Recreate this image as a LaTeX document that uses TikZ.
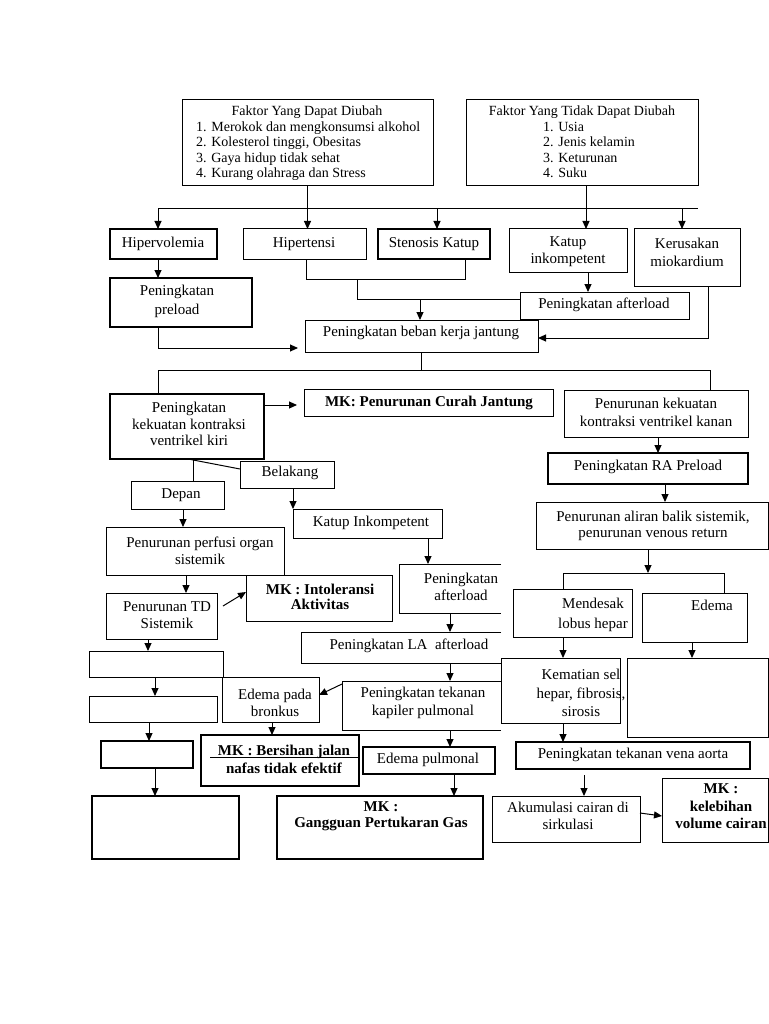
\documentclass[tikz,border=0pt]{standalone}
\usepackage{fontspec}
\setmainfont{Liberation Serif}
\usetikzlibrary{arrows.meta}
\newcommand\fsA{\fontsize{14}{15.5}\selectfont}
\newcommand\fsB{\fontsize{15}{16.5}\selectfont}
\newcommand\mkbox[6][]{\node[box,#1,minimum width={(#4)-(#2)},minimum height={(#5)-(#3)}] (#6) at ({((#2)+(#4))/2},{((#3)+(#5))/2}) {};}
\begin{document}
\begin{tikzpicture}[x=1pt,y=-1pt,
  ln/.style={line width=1pt},
  arr/.style={ln,-{Triangle[length=8pt,width=7pt]}},
  box/.style={draw,line width=1pt,inner sep=0pt,outer sep=0pt},
  thk/.style={line width=1.8pt},
  txa/.style={font=\fsA,inner sep=0pt,align=center},
  txt/.style={font=\fsB,inner sep=0pt,align=center},
  txb/.style={font=\fsB\bfseries,inner sep=0pt,align=center}]
\fill[white] (0,0) rectangle (768,1024);
\useasboundingbox (0,0) rectangle (768,1024);
% ---- top factor boxes
\mkbox{182}{100}{433}{186}{fA}
\mkbox{466}{100}{698}{186}{fB}
\node[txa] (tA0) at (307,112) {Faktor Yang Dapat Diubah};
\node[txa,anchor=west,align=left] (tA1) at (196,151) {1. Merokok dan mengkonsumsi alkohol\\2. Kolesterol tinggi, Obesitas\\3. Gaya hidup tidak sehat\\4. Kurang olahraga dan Stress};
\node[txa] (tB0) at (582,112) {Faktor Yang Tidak Dapat Diubah};
\node[txa,anchor=west,align=left] (tB1) at (543,150) {1. Usia\\2. Jenis kelamin\\3. Keturunan\\4. Suku};
% ---- row 2
\mkbox[thk]{110}{229}{217}{259}{hiperv}
\node[txt] (thv) at (163,244) {Hipervolemia};
\mkbox{243}{229}{366}{259}{hipert}
\node[txt] (tht) at (304,244) {Hipertensi};
\mkbox[thk]{378}{229}{490}{259}{sten}
\node[txt] (tst) at (434,244) {Stenosis Katup};
\mkbox{509}{229}{627}{272}{katup}
\node[txt] (tki) at (568,252) {Katup\\[0.5pt]inkompetent};
\mkbox{634}{229}{740}{286}{kerus}
\node[txt] (tkr) at (687,252) {Kerusakan\\[1.5pt]miokardium};
\mkbox[thk]{110}{278}{252}{327}{preload}
\node[txt] (tpr) at (177,301) {Peningkatan\\[2.5pt]preload};
\mkbox{520}{292}{689}{319}{afterl}
\node[txt] (taf) at (604,305) {Peningkatan afterload};
\mkbox{305}{320}{538}{352}{beban}
\node[txt] (tbb) at (421,333) {Peningkatan beban kerja jantung};
% ---- connectors top
\coordinate (hL) at (158,209);
\coordinate (hR) at (698,209);
\draw[ln] (hL) -- (hR);
\draw[arr] (hL) -- (hL |- hiperv.north);
\draw[arr] (fA.south) -- (fA.south |- hipert.north);
\coordinate (hS) at (437,209);
\draw[arr] (hS) -- (hS |- sten.north);
\coordinate (hB) at (586,209);
\draw[arr] (hB |- fB.south) -- (hB |- katup.north);
\coordinate (hK) at (682,209);
\draw[arr] (hK) -- (hK |- kerus.north);
\draw[arr] (hL |- hiperv.south) -- (hL |- preload.north);
\coordinate (br1) at (306,279);
\coordinate (br2) at (465,279);
\draw[ln] (br1 |- hipert.south) -- (br1) -- (br2) -- (br2 |- sten.south);
\coordinate (bm) at (357,279);
\coordinate (bm2) at (357,299);
\draw[ln] (bm) -- (bm2) -- (bm2 -| afterl.west);
\coordinate (ba) at (420,299);
\draw[arr] (ba) -- (ba |- beban.north);
\coordinate (ka) at (588,272);
\draw[arr] (ka) -- (ka |- afterl.north);
\coordinate (kr) at (708,338);
\draw[arr] (kr |- kerus.south) -- (kr) -- (kr -| beban.east);
\coordinate (pa) at (298,348);
\draw[arr] (hL |- preload.south) |- (pa);
% ---- split below beban
\coordinate (bb) at (421,370);
\coordinate (bl) at (158,370);
\coordinate (brr) at (710,370);
\draw[ln] (bb |- beban.south) -- (bb);
\mkbox[thk]{110}{394}{264}{459}{LV}
\node[txt] (tlv) at (189,424) {Peningkatan\\kekuatan kontraksi\\ventrikel kiri};
\mkbox{304}{389}{553}{416}{mk1}
\node[txb] (tm1) at (429,403) {MK: Penurunan Curah Jantung};
\mkbox{564}{390}{748}{437}{kanan}
\node[txt] (tkn) at (656,412) {Penurunan kekuatan\\[1.5pt]kontraksi ventrikel kanan};
\draw[ln] (bl |- LV.north) -- (bl) -- (brr) -- (brr |- kanan.north);
\coordinate (m1) at (297,405);
\draw[arr] (m1 -| LV.east) -- (m1);
% ---- right column
\mkbox[thk]{548}{453}{748}{484}{ra}
\node[txt] (tra) at (648,467) {Peningkatan RA Preload};
\coordinate (r1) at (658,437);
\draw[arr] (r1) -- (r1 |- ra.north);
\mkbox{536}{502}{768}{549}{aliran}
\node[txt] (tal) at (653,526) {Penurunan aliran balik sistemik,\\penurunan venous return};
\coordinate (r2) at (665,484);
\draw[arr] (r2) -- (r2 |- aliran.north);
\coordinate (r3) at (648,573);
\draw[arr] (r3 |- aliran.south) -- (r3);
\mkbox{513}{589}{632}{637}{mend}
\node[txt] (tmd) at (593,615) {Mendesak\\[3.5pt]lobus hepar};
\mkbox{642}{593}{747}{642}{edema}
\node[txt] (ted) at (712,605) {Edema};
\coordinate (rl) at (563,573);
\coordinate (rr) at (724,573);
\draw[ln] (rl |- mend.north) -- (rl) -- (rr) -- (rr |- edema.north);
\mkbox{501}{658}{620}{723}{kemat}
\node[txt] (tkm) at (581,693) {Kematian sel\\[2pt]hepar, fibrosis,\\[2pt]sirosis};
\mkbox{627}{658}{768}{737}{emptyR}
\draw[arr] (rl |- mend.south) -- (rl |- kemat.north);
\coordinate (r4) at (692,642);
\draw[arr] (r4) -- (r4 |- emptyR.north);
\mkbox[thk]{516}{742}{750}{769}{vena}
\node[txt] (tvn) at (633,755) {Peningkatan tekanan vena aorta};
\draw[arr] (rl |- kemat.south) -- (rl |- vena.north);
\mkbox{492}{796}{640}{842}{akum}
\node[txt] (tak) at (568,816) {Akumulasi cairan di\\sirkulasi};
\coordinate (r5) at (584,775);
\draw[arr] (r5) -- (r5 |- akum.north);
\mkbox{662}{778}{768}{842}{mk3}
\node[txb] (tm3) at (721,806) {MK :\\[2pt]kelebihan\\volume cairan};
\coordinate (r6) at (641,813);
\coordinate (r7) at (662,816);
\draw[arr] (akum.east |- r6) -- (mk3.west |- r7);
% ---- middle / left
\coordinate (lv1) at (193,481);
\draw[ln] (lv1 |- LV.south) -- (lv1);
\mkbox{131}{481}{224}{509}{depan}
\node[txt] (tdp) at (181,495) {Depan};
\mkbox{240}{461}{334}{488}{bel}
\node[txt] (tbl) at (290,473) {Belakang};
\coordinate (lv2) at (188,459);
\coordinate (lv3) at (240,469);
\draw[ln] (lv2) -- (lv3 -| bel.west);
\mkbox{106}{527}{284}{575}{perf}
\node[txt] (tpf) at (200,551) {Penurunan perfusi organ\\sistemik};
\coordinate (d1) at (183,509);
\draw[arr] (d1 |- depan.south) -- (d1 |- perf.north);
\mkbox{293}{509}{442}{538}{kinc}
\node[txt] (tkc) at (371,523) {Katup Inkompetent};
\coordinate (b1) at (293,488);
\draw[arr] (b1 |- bel.south) -- (b1 |- kinc.north);
\mkbox[draw=none]{399}{564}{501}{613}{aft2}
\draw[ln] (aft2.north east) -- (aft2.north west) -- (aft2.south west) -- (aft2.south east);
\node[txt] (ta2) at (461,587) {Peningkatan\\afterload};
\coordinate (k1) at (428,538);
\draw[arr] (k1 |- kinc.south) -- (k1 |- aft2.north);
\mkbox[draw=none]{301}{632}{501}{663}{la}
\draw[ln] (la.north east) -- (la.north west) -- (la.south west) -- (la.south east);
\node[txt] (tla) at (409,646) {Peningkatan LA\ \ afterload};
\coordinate (c1) at (450,613);
\draw[arr] (c1 |- aft2.south) -- (c1 |- la.north);
\mkbox[draw=none]{342}{681}{501}{730}{kap}
\draw[ln] (kap.north east) -- (kap.north west) -- (kap.south west) -- (kap.south east);
\node[txt] (tkp) at (423,703) {Peningkatan tekanan\\[1pt]kapiler pulmonal};
\draw[arr] (c1 |- la.south) -- (c1 |- kap.north);
\mkbox[thk]{363}{747}{495}{774}{edp}
\node[txt] (tep) at (428,760) {Edema pulmonal};
\draw[arr] (c1 |- kap.south) -- (c1 |- edp.north);
\mkbox[thk]{277}{796}{483}{859}{mkg}
\node[txb] (tmg) at (381,816) {MK :\\Gangguan Pertukaran Gas};
\coordinate (c2) at (454,774);
\draw[arr] (c2 |- edp.south) -- (c2 |- mkg.north);
\mkbox{106}{593}{217}{639}{td}
\node[txt] (ttd) at (167,615) {Penurunan TD\\[1pt]Sistemik};
\coordinate (p1) at (186,575);
\draw[arr] (p1 |- perf.south) -- (p1 |- td.north);
\mkbox{246}{575}{392}{621}{mk2}
\node[txb] (tm2) at (320,597) {MK : Intoleransi\\[-2pt]Aktivitas};
\coordinate (t1) at (223,606);
\coordinate (t2) at (246,592);
\draw[arr] (t1) -- (mk2.west |- t2);
\mkbox{89}{651}{223}{677}{em1}
\coordinate (e0) at (148,639);
\draw[arr] (e0 |- td.south) -- (e0 |- em1.north);
\mkbox{89}{696}{217}{722}{em2}
\coordinate (e1) at (155,677);
\draw[arr] (e1 |- em1.south) -- (e1 |- em2.north);
\mkbox[thk]{101}{741}{193}{768}{em3}
\coordinate (e2) at (149,722);
\draw[arr] (e2 |- em2.south) -- (e2 |- em3.north);
\mkbox[thk]{92}{796}{239}{859}{em4}
\coordinate (e3) at (155,768);
\draw[arr] (e3 |- em3.south) -- (e3 |- em4.north);
\mkbox{222}{677}{319}{722}{bronk}
\node[txt] (tbr) at (275,703) {Edema pada\\[1pt]bronkus};
\coordinate (k2) at (342,684);
\coordinate (k3) at (319,695);
\draw[arr] (kap.west |- k2) -- (bronk.east |- k3);
\mkbox[thk]{201}{735}{359}{786}{mkb}
\node[txb] (tmb) at (284,759) {MK : Bersihan jalan\\[1.5pt]nafas tidak efektif};
\coordinate (u1) at (210,757);
\draw[ln] (u1) -- (u1 -| mkb.east);
\coordinate (bk) at (272,722);
\draw[arr] (bk |- bronk.south) -- (bk |- mkb.north);
\end{tikzpicture}
\end{document}
